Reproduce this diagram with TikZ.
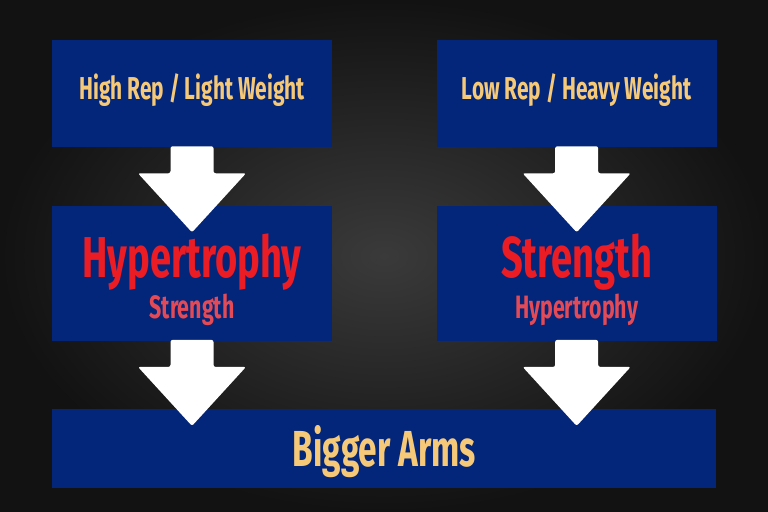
\documentclass[tikz,border=0pt]{standalone}
\usepackage{fontspec}
\newfontfamily\postfont{Fira Sans}[FakeStretch=0.66]
\usetikzlibrary{positioning,calc}
\definecolor{bgcore}{RGB}{58,58,58}
\definecolor{bgedge}{RGB}{18,18,18}
\definecolor{navy}{RGB}{4,38,122}
\definecolor{gold}{RGB}{246,201,120}
\definecolor{hotred}{RGB}{236,28,36}
\definecolor{softred}{RGB}{228,74,86}

% white block arrow hanging from a box edge, tip at #2
\newcommand{\fatarrow}[2]{%
  \fill[fatarrow] ($(#1)+(-21.5,-1)$) -- ($(#1)+(21.5,-1)$) -- ($(#1)+(21.5,26)$)
    -- ($(#1)+(54,26)$) -- (#2) -- ($(#1)+(-54,26)$) -- ($(#1)+(-21.5,26)$) -- cycle;}

\begin{document}
\begin{tikzpicture}[
    x=0.025cm, y=-0.025cm,
    panel/.style={rectangle, fill=navy, minimum width=7cm, inner sep=0pt},
    smallword/.style={anchor=base, inner sep=0pt, font=\postfont\bfseries\fontsize{22.5}{26}\selectfont},
    subword/.style={anchor=base, inner sep=0pt, text=softred, font=\postfont\bfseries\fontsize{23}{26}\selectfont},
    bigword/.style={anchor=base, inner sep=0pt, text=hotred, font=\postfont\bfseries\fontsize{41}{44}\selectfont},
    fatarrow/.style={fill=white, rounded corners=1.5pt}
]
\shade[inner color=bgcore, outer color=bgedge] (0,0) rectangle (768,512);
\useasboundingbox (0,0) rectangle (768,512);

\node[panel, minimum height=2.675cm] (highrep) at (192,93.5) {};
\node[panel, minimum height=2.675cm, right=2.6cm of highrep] (lowrep) {};
\node[panel, minimum height=3.375cm, below=1.45cm of highrep] (hypbox) {};
\node[panel, minimum height=3.375cm, below=1.45cm of lowrep] (strbox) {};
\node[panel, minimum width=16.6cm, minimum height=1.975cm, anchor=north]
    (arms) at ($(hypbox.south)!0.5!(strbox.south)+(0,68)$) {};

\node[smallword, text=gold] (highreptext) at ($(highrep.center)+(0,6)$) {High Rep / Light Weight};
\node[smallword, text=gold] (lowreptext) at ($(lowrep.center)+(0,6)$) {Low Rep / Heavy Weight};

\fatarrow{highrep.south}{$(hypbox.north)+(0,27)$}
\fatarrow{lowrep.south}{$(strbox.north)+(0,27)$}
\fatarrow{hypbox.south}{$(hypbox.south |- arms.north)+(0,17)$}
\fatarrow{strbox.south}{$(strbox.south |- arms.north)+(0,17)$}

\node[bigword] (hyptext) at ($(hypbox.center)+(0,4.5)$) {Hypertrophy};
\node[subword] (hypsub) at ($(hypbox.center)+(0,45.5)$) {Strength};
\node[bigword] (strtext) at ($(strbox.center)+(0,4.5)$) {Strength};
\node[subword] (strsub) at ($(strbox.center)+(0,45.5)$) {Hypertrophy};

\node[anchor=base, inner sep=0pt, text=gold, font=\postfont\bfseries\fontsize{36}{40}\selectfont]
    (armstext) at ($(arms.center)+(0,17.5)$) {Bigger Arms};
\end{tikzpicture}
\end{document}
